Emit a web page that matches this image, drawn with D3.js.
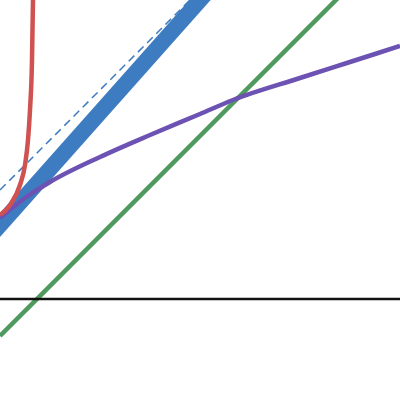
<!DOCTYPE html>
<html>
<head>
<meta charset="UTF-8">
<script src="https://cdn.jsdelivr.net/npm/d3@7"></script>
<style>body{margin:0}</style>
</head>
<body>
<script>
// values, in data units
var bandX = [0, 1, 2, 3, 4, 5, 6];
var bandMid = [1.85, 2.975, 4.1, 5.225, 6.35, 7.475, 8.6];
var bandHalf = 0.3;
var dashX = [0, 6];
var dashY = [2.725, 8.725];
var redX = [0, 0.25, 0.5, 0.625, 0.7, 0.75, 0.8, 0.825, 0.84];
var redY = [2.1, 2.35, 2.85, 3.35, 3.975, 4.725, 5.975, 7.475, 8];
var greenX = [0, 10];
var greenY = [-0.925, 9.075];
var purpleX = [0, 0.625, 1.25, 2.5, 3.75, 5, 5.825, 7.5, 8.75, 10];
var purpleY = [2.025, 2.525, 2.925, 3.55, 4.1, 4.625, 4.975, 5.525, 5.925, 6.325];

var W = 400, H = 400;
var svg = d3.select("body").append("svg").attr("width", W).attr("height", H);
var x = d3.scaleLinear().domain([0, 10]).range([0, W]);
var y = d3.scaleLinear().domain([-2.525, 7.475]).range([H, 0]);

function pts(xs, ys) { return xs.map(function(v, i) { return [v, ys[i]]; }); }
var line = d3.line().x(function(d) { return x(d[0]); }).y(function(d) { return y(d[1]); });
var smooth = d3.line().x(function(d) { return x(d[0]); }).y(function(d) { return y(d[1]); }).curve(d3.curveMonotoneX);

svg.append("path")
    .attr("d", d3.area()
        .x(function(d, i) { return x(bandX[i]); })
        .y0(function(d) { return y(d - bandHalf); })
        .y1(function(d) { return y(d + bandHalf); })(bandMid))
    .style("fill", "#3d7cc0");

svg.append("path").attr("d", line(pts(dashX, dashY)))
    .style("fill", "none").style("stroke", "#3d7cc0").style("stroke-width", 1.5)
    .style("stroke-dasharray", "8,5");

svg.append("path").attr("d", line(pts(greenX, greenY)))
    .style("fill", "none").style("stroke", "#4f9a5f").style("stroke-width", 4.5);

svg.append("path").attr("d", smooth(pts(purpleX, purpleY)))
    .style("fill", "none").style("stroke", "#6c52b2").style("stroke-width", 4.5);

svg.append("path").attr("d", smooth(pts(redX, redY)))
    .style("fill", "none").style("stroke", "#d0514f").style("stroke-width", 4.5);

svg.append("line").attr("x1", x(0)).attr("x2", x(10)).attr("y1", y(0)).attr("y2", y(0))
    .style("stroke", "#111").style("stroke-width", 2.5);
</script>
</body>
</html>
